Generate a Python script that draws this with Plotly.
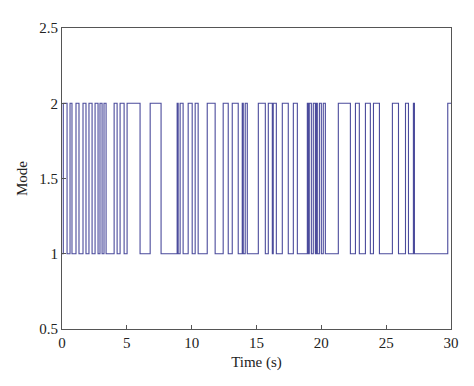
import plotly.graph_objects as go

# Switch times (s) and the mode held from each time on
switch_times = [0.0, 0.10, 0.39, 0.62, 0.77, 1.08, 1.31, 1.62, 1.85, 2.08, 2.32, 2.55, 2.78,
                2.93, 3.09, 3.24, 3.40, 4.02, 4.25, 4.48, 4.79, 5.02, 6.02, 6.80, 7.64,
                8.88, 8.96, 9.11, 9.34, 9.73, 10.04, 10.27, 10.50, 11.20, 11.81, 12.43, 12.82,
                13.13, 13.59, 13.90, 13.98, 14.13, 14.29, 15.14, 15.68, 15.91, 16.22, 16.29,
                16.53, 16.99, 17.45, 17.84, 18.15, 18.92, 19.00, 19.07, 19.23, 19.38, 19.54,
                19.61, 19.69, 19.85, 20.00, 20.15, 20.31, 21.31, 22.24, 22.63, 22.93, 23.40,
                23.78, 24.02, 24.48, 25.48, 25.95, 26.49, 26.72, 27.10, 27.18, 29.75, 30.0]
modes = [1, 2, 1, 2, 1, 2, 1, 2, 1, 2, 1, 2, 1,
         2, 1, 2, 1, 2, 1, 2, 1, 2, 1, 2, 1,
         2, 1, 2, 1, 2, 1, 2, 1, 2, 1, 2, 1,
         2, 1, 2, 1, 2, 1, 2, 1, 2, 1, 2,
         1, 2, 1, 2, 1, 2, 1, 2, 1, 2, 1,
         2, 1, 2, 1, 2, 1, 2, 1, 2, 1, 2,
         1, 2, 1, 2, 1, 2, 1, 2, 1, 2, 2]

x_ticks = [0, 5, 10, 15, 20, 25, 30]
y_ticks = [0.5, 1, 1.5, 2, 2.5]
y_tick_labels = ["0.5", "1", "1.5", "2", "2.5"]

fig = go.Figure()
fig.add_trace(go.Scatter(x=switch_times, y=modes, mode="lines", line_shape="hv",
                         line=dict(color="#4b4b9c", width=1.1), showlegend=False))

font = dict(family="Liberation Serif, Times New Roman, serif", size=15, color="#222222")
axis_common = dict(showgrid=False, zeroline=False, showline=True, mirror=True,
                   linecolor="#555555", linewidth=1, ticks="inside", ticklen=4,
                   tickcolor="#555555", tickfont=font)
fig.update_layout(
    width=466, height=378,
    margin=dict(l=54, r=23, t=14, b=57),
    paper_bgcolor="white", plot_bgcolor="white",
    font=font,
    xaxis=dict(range=[0, 30], tickvals=x_ticks, title=dict(text="Time (s)", font=font, standoff=6),
               **axis_common),
    yaxis=dict(range=[0.5, 2.5], tickvals=y_ticks, ticktext=y_tick_labels,
               title=dict(text="Mode", font=font, standoff=8), **axis_common),
)
fig.write_html("out.html")
